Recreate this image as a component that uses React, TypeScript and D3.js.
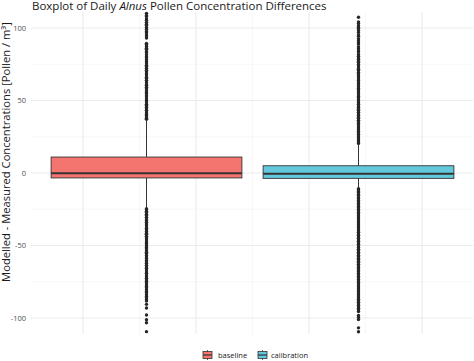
import React from "react";
import * as d3 from "d3";

const categories = ["baseline", "calibration"];
const boxColors = ["#F4756F", "#64C8DC"];
// [lowerWhisker, q1, median, q3, upperWhisker]
const boxStats = [
  [-24, -3.4, -0.2, 11, 36],
  [-10.3, -3.7, -0.5, 5, 19.3],
];
const baselineOutliers = [
  110.1, 108.7, 107.9, 106.2, 105.4, 103.9, 102.6, 101.8, 100.3, 99.1, 97.6, 96.8, 95.2, 94.4, 93.1,
  89.4, 88.6, 87.2, 86.1, 85.3, 83.8, 82.9, 81.5, 80.2, 79.4, 78.1, 76.7, 75.8, 74.3, 73.5, 72.2, 70.9,
  69.8, 68.4, 67.6, 66.1, 65.2, 63.9, 62.7, 61.4, 60.5, 59.2, 58.1, 56.8, 55.6, 54.7, 53.3, 52.4, 51.1,
  49.8, 48.9, 47.5, 46.6, 45.3, 44.1, 43.2, 42.0, 41.3, 40.4, 39.5, 38.7, 37.8, 37.1,
  -24.6, -25.3, -26.4, -27.2, -28.5, -29.3, -30.6, -31.8, -32.7, -33.9, -35.1, -35.8, -37.2, -38.3,
  -39.1, -40.4, -41.6, -42.3, -43.7, -44.8, -45.6, -46.9, -48.1, -48.8, -50.2, -51.4, -52.3, -53.6,
  -54.7, -55.5, -56.9, -58.0, -58.9, -60.3, -61.4, -62.2, -63.6, -64.8, -65.7, -66.9, -68.2, -69.1,
  -70.4, -71.6, -72.5, -73.8, -74.9, -75.7, -77.1, -78.3, -79.2, -80.5, -81.7, -82.6, -83.9, -85.1,
  -86.0, -87.4, -88.3, -90.6, -93.1, -97.9, -101.2, -103.3, -109.4,
];
const calibrationOutliers = [
  107.4, 104.2, 103.1, 101.6, 100.4, 99.7, 98.2, 96.9, 95.1, 94.3, 92.6, 91.2, 89.8, 88.9, 87.1, 85.7,
  84.2, 83.4, 81.8, 80.6, 79.3, 78.4, 77.1, 76.2, 74.8, 73.9, 72.6, 71.5, 70.7, 69.3, 68.4, 67.1, 66.2,
  64.9, 63.8, 62.8, 61.6, 60.7, 59.4, 58.3, 57.5, 56.1, 55.2, 53.9, 52.8, 51.9, 50.6, 49.7, 48.4, 47.5,
  46.2, 45.3, 44.0, 43.1, 41.9, 40.7, 39.8, 38.5, 37.6, 36.3, 35.4, 34.1, 33.2, 31.9, 31.0, 29.8, 28.7,
  27.8, 26.5, 25.6, 24.3, 23.4, 22.2, 21.3, 20.4,
  -10.8, -11.6, -12.7, -13.5, -14.8, -15.6, -16.9, -17.7, -18.9, -19.8, -21.0, -21.9, -23.1, -24.0,
  -25.2, -26.1, -27.3, -28.2, -29.4, -30.3, -31.5, -32.4, -33.6, -34.5, -35.7, -36.6, -37.8, -38.7,
  -39.9, -40.8, -42.0, -42.9, -44.1, -45.0, -46.2, -47.1, -48.3, -49.2, -50.4, -51.3, -52.5, -53.4,
  -54.6, -55.5, -56.7, -57.6, -58.8, -59.7, -60.9, -61.8, -63.0, -63.9, -65.1, -66.0, -67.2, -68.1,
  -69.3, -70.2, -71.4, -72.3, -73.5, -74.4, -75.6, -76.5, -77.7, -78.6, -79.8, -80.7, -81.9, -82.8,
  -84.0, -84.9, -86.1, -87.0, -88.2, -89.1, -90.3, -91.2, -92.4, -93.3, -94.5, -95.6, -98.2, -99.6,
  -101.1, -106.8, -109.5,
];
const outliers = [baselineOutliers, calibrationOutliers];
const yTicks = [-100, -50, 0, 50, 100];
const yMinor = [-75, -25, 25, 75];
const xMajorGrid = [0.7, 1.233, 1.767, 2.3];
const xMinorGrid = [0.967, 1.5, 2.033];

const W = 474;
const H = 361;
const FONT = "'Open Sans', 'DejaVu Sans', sans-serif";

export default function App() {
  const panel = { left: 31, right: 473, top: 12, bottom: 334 };
  const y = d3.scaleLinear().domain([-100, 100]).range([318, 28]);
  const x = d3.scaleLinear().domain([1, 2]).range([146.5, 358.5]);
  const halfW = (x(1.9) - x(1)) / 2;

  return (
    <svg width={W} height={H} style={{ position: "absolute", left: 0, top: 0, background: "#fff" }}>
      {/* grid */}
      <g>
        {yMinor.map((t) => (
          <line key={"ym" + t} x1={panel.left} x2={panel.right} y1={y(t)} y2={y(t)} stroke="#F2F2F2" strokeWidth={0.6} />
        ))}
        {xMinorGrid.map((t) => (
          <line key={"xm" + t} x1={x(t)} x2={x(t)} y1={panel.top} y2={panel.bottom} stroke="#F2F2F2" strokeWidth={0.6} />
        ))}
        {yTicks.map((t) => (
          <line key={"yg" + t} x1={panel.left} x2={panel.right} y1={y(t)} y2={y(t)} stroke="#EBEBEB" strokeWidth={1.1} />
        ))}
        {xMajorGrid.map((t) => (
          <line key={"xg" + t} x1={x(t)} x2={x(t)} y1={panel.top} y2={panel.bottom} stroke="#EBEBEB" strokeWidth={1.1} />
        ))}
      </g>
      {/* boxes */}
      {categories.map((c, i) => {
        const [lw, q1, med, q3, uw] = boxStats[i];
        const cx = x(i + 1);
        return (
          <g key={c}>
            <line x1={cx} x2={cx} y1={y(q3)} y2={y(uw)} stroke="#333" strokeWidth={1} />
            <line x1={cx} x2={cx} y1={y(q1)} y2={y(lw)} stroke="#333" strokeWidth={1} />
            {outliers[i].map((v, j) => (
              <circle key={j} cx={cx} cy={y(v)} r={1.7} fill="#262626" />
            ))}
            <rect x={cx - halfW} y={y(q3)} width={halfW * 2} height={y(q1) - y(q3)} fill={boxColors[i]} stroke="#333" strokeWidth={0.9} />
            <line x1={cx - halfW} x2={cx + halfW} y1={y(med)} y2={y(med)} stroke="#333" strokeWidth={2} />
          </g>
        );
      })}
      {/* y axis tick labels */}
      {yTicks.map((t) => (
        <text key={"yl" + t} x={26} y={y(t)} dy="0.35em" textAnchor="end" fontSize={7.5} fill="#4D4D4D" fontFamily={FONT}>
          {t}
        </text>
      ))}
      {/* y axis title */}
      <text transform={`translate(10,152) rotate(-90)`} textAnchor="middle" fontSize={11.2} fill="#1a1a1a" fontFamily={FONT}>
        Modelled - Measured Concentrations [Pollen / m³]
      </text>
      {/* title */}
      <text x={32} y={10} fontSize={11.5} fill="#1a1a1a" fontFamily={FONT}>
        Boxplot of Daily <tspan fontStyle="italic">Alnus</tspan> Pollen Concentration Differences
      </text>
      {/* legend */}
      {categories.map((c, i) => {
        const kx = [203, 258][i];
        const tx = [218, 271][i];
        const ky = 355;
        return (
          <g key={"lg" + c}>
            <line x1={kx + 4.5} x2={kx + 4.5} y1={ky - 5} y2={ky + 5} stroke="#333" strokeWidth={0.8} />
            <rect x={kx} y={ky - 3.5} width={9} height={7} fill={boxColors[i]} stroke="#333" strokeWidth={0.8} />
            <line x1={kx} x2={kx + 9} y1={ky} y2={ky} stroke="#333" strokeWidth={1.2} />
            <text x={tx} y={ky} dy="0.35em" fontSize={7.5} fill="#1a1a1a" fontFamily={FONT}>
              {c}
            </text>
          </g>
        );
      })}
    </svg>
  );
}
